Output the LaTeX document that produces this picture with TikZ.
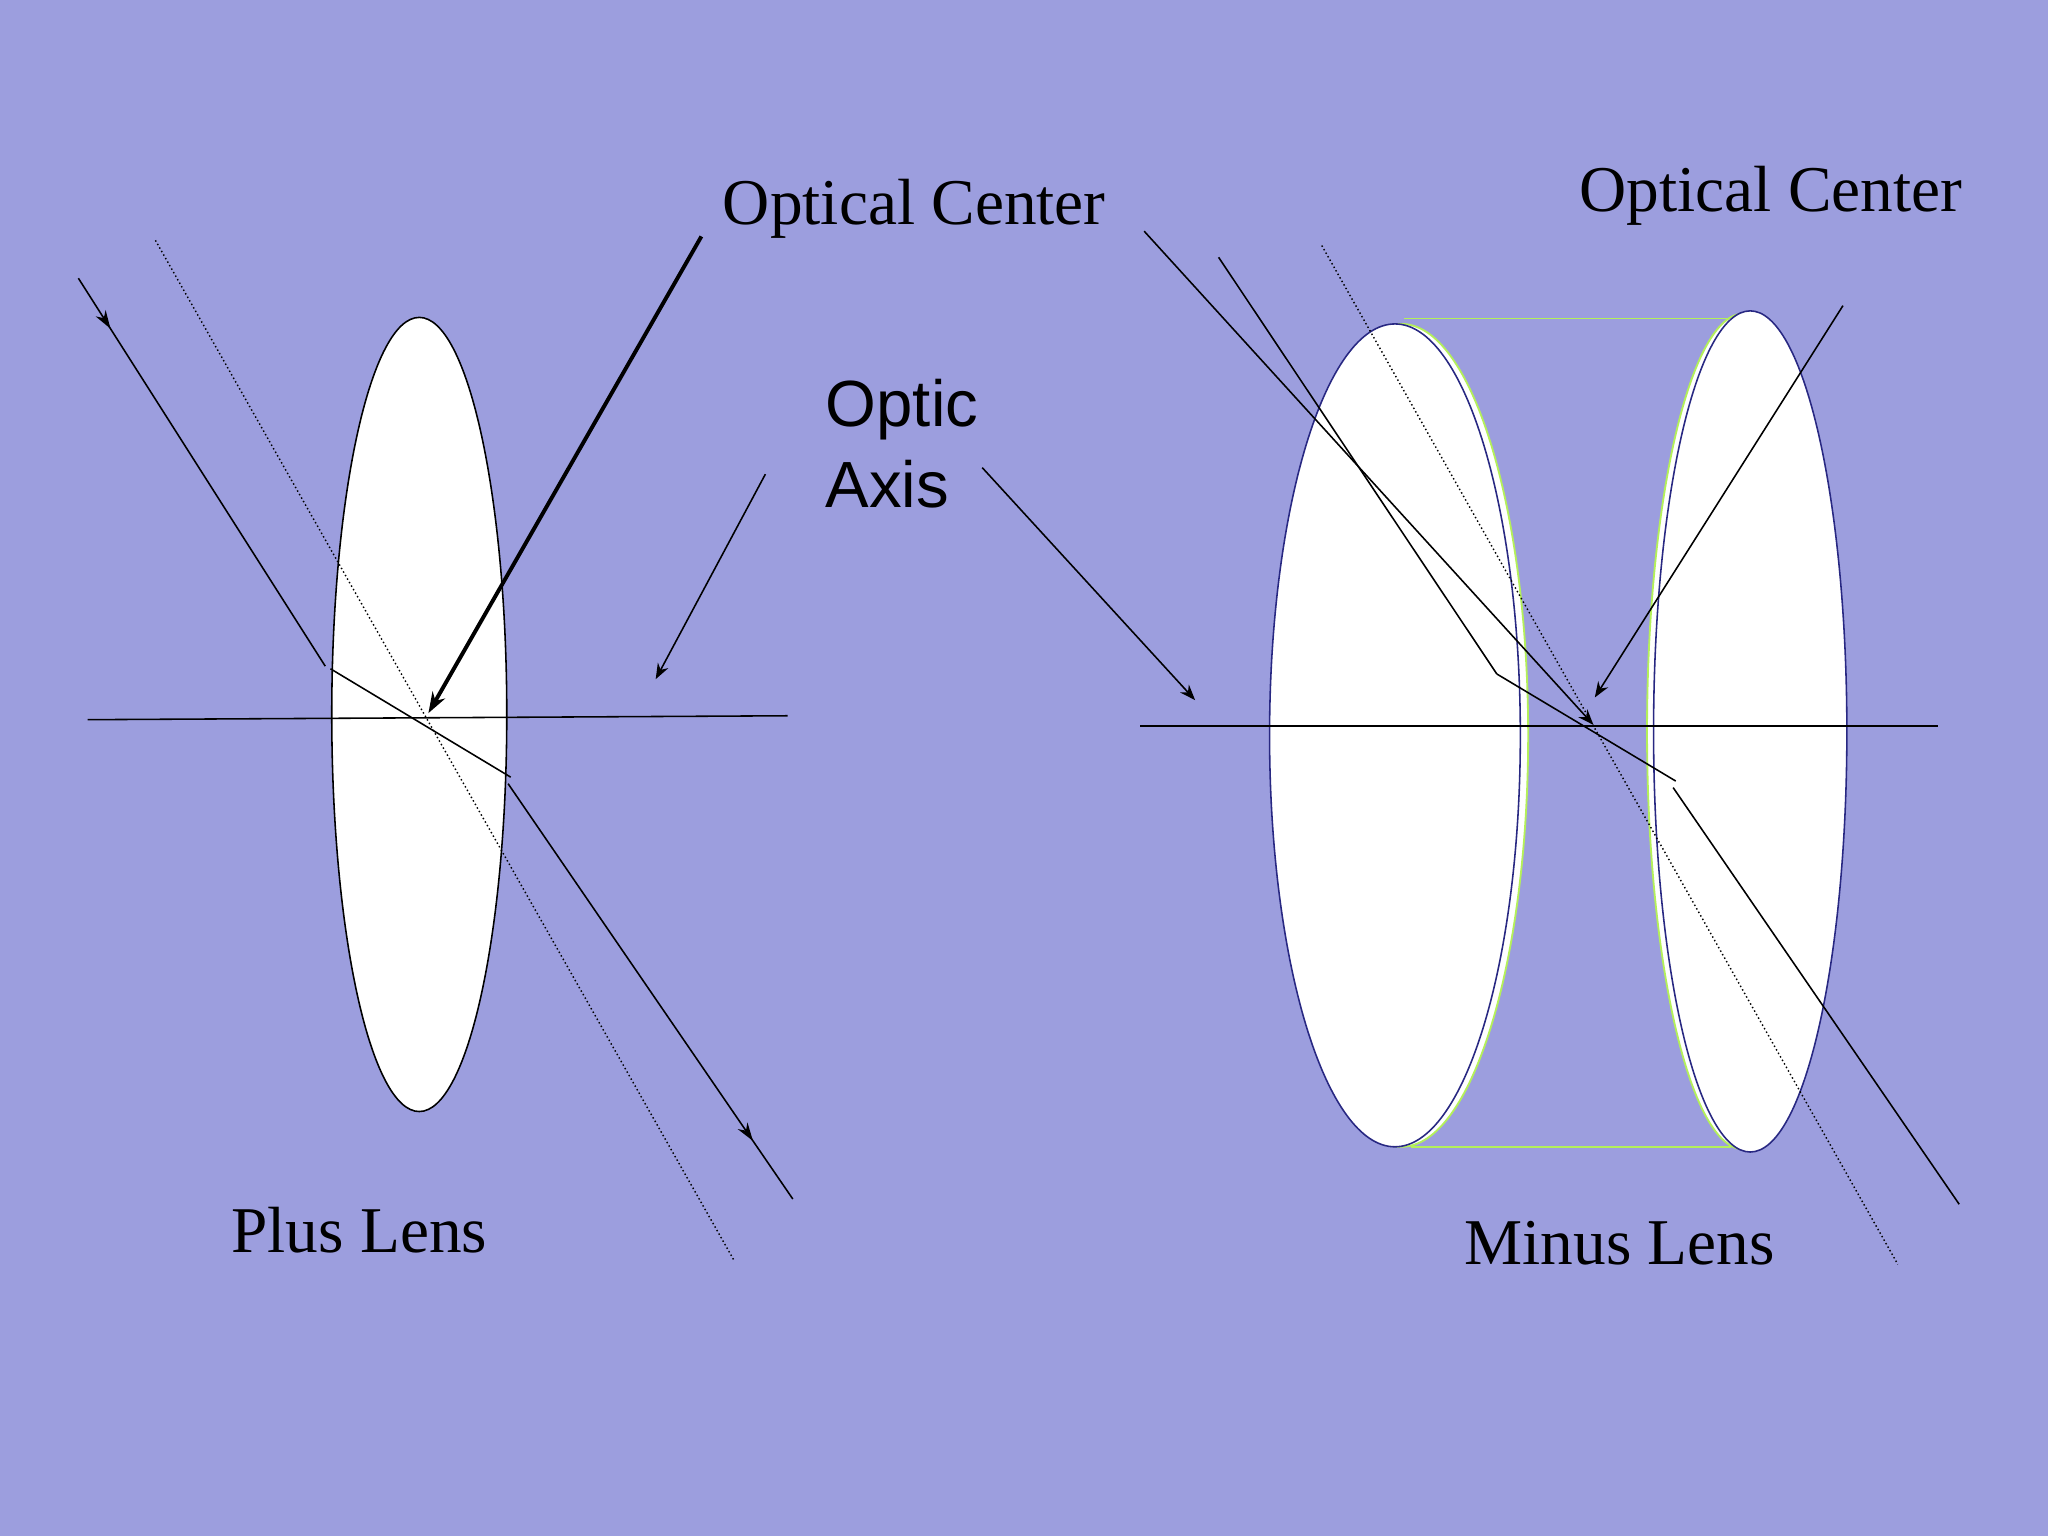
\documentclass[tikz,border=0pt]{standalone}
\usepackage{fontspec}
\setmainfont{Liberation Serif}
\newfontfamily\arialf{Liberation Sans}
\usetikzlibrary{arrows.meta,decorations.markings}
\definecolor{bg}{RGB}{156,158,222}
\definecolor{navy}{RGB}{40,40,130}
\definecolor{lgreen}{RGB}{180,240,90}
\tikzset{ray/.style={line width=1.2pt,black},
  dots/.style={line width=1.1pt,dotted},
  lab/.style={font=\fontsize{50}{54}\selectfont,inner sep=0pt},
  arr/.style={ray,-{Stealth[length=12pt,width=9pt]}},
  midarr/.style={postaction={decorate},decoration={markings,mark=at position #1 with {\arrow{Stealth[length=14pt,width=9pt]}}}}}
\begin{document}
\begin{tikzpicture}[x=1pt,y=-1pt]
\fill[bg] (0,0) rectangle (1568,1176);
\useasboundingbox (0,0) rectangle (1568,1176);
% plus lens
\draw[fill=white,line width=1.2pt] (321,547) ellipse [x radius=67,y radius=304];
\coordinate (pa1) at (67,551); \coordinate (pa2) at (603,548);
\draw[ray] (pa1) -- (pa2);
\coordinate (r1) at (60,213); \coordinate (r2) at (249,510);
\coordinate (r2b) at (253,512); \coordinate (r3) at (391,595);
\coordinate (r3b) at (389,600); \coordinate (r4) at (607,918);
\draw[ray,midarr=0.13] (r1) -- (r2);
\draw[ray] (r2b) -- (r3);
\draw[ray,midarr=0.86] (r3b) -- (r4);
\coordinate (d1) at (119,184); \coordinate (d2) at (562,965);
\draw[dots] (d1) -- (d2);
\node[lab] (oc1) at (700,160) {Optical Center};
\coordinate (oc1s) at (537,181); \coordinate (oc1e) at (328,546);
\draw[line width=3pt,-{Stealth[length=16pt,width=11pt]}] (oc1s) -- (oc1e);
\coordinate (ax1s) at (586,363); \coordinate (ax1e) at (502,520);
\draw[arr] (ax1s) -- (ax1e);
\node[lab,font=\arialf\fontsize{50}{62}\selectfont,align=left,anchor=north west] (oa) at (632,290) {Optic\\Axis};
\coordinate (ax2s) at (752,358); \coordinate (ax2e) at (915,536);
\draw[arr] (ax2s) -- (ax2e);
\node[lab] (pl) at (275,942) {Plus Lens};
\node[lab] (ml) at (1240,952) {Minus Lens};
\node[lab] (oc2) at (1356,150) {Optical Center};
% minus lens
\coordinate (g1) at (1075,244); \coordinate (g2) at (1325,244);
\coordinate (g3) at (1080,878); \coordinate (g4) at (1325,878);
\draw[lgreen,line width=1.2pt] (g1) -- (g2) (g3) -- (g4);
\draw[fill=white,draw=lgreen,line width=1.4pt] (1073,563) ellipse [x radius=97,y radius=315];
\draw[fill=white,draw=navy,line width=1.2pt] (1068,563) ellipse [x radius=96,y radius=315];
\draw[fill=white,draw=lgreen,line width=1.4pt] (1335,560) ellipse [x radius=74,y radius=320];
\draw[fill=white,draw=navy,line width=1.2pt] (1340,560) ellipse [x radius=74,y radius=322];
\coordinate (ma1) at (873,556); \coordinate (ma2) at (1484,556);
\draw[ray] (ma1) -- (ma2);
\coordinate (s1) at (933,197); \coordinate (s2) at (1146,516);
\coordinate (s2b) at (1146,516); \coordinate (s3) at (1283,598);
\coordinate (s3b) at (1281,603); \coordinate (s4) at (1500,922);
\draw[ray] (s1) -- (s2); \draw[ray] (s2b) -- (s3); \draw[ray] (s3b) -- (s4);
\coordinate (e1) at (1012,188); \coordinate (e2) at (1453,968);
\draw[dots] (e1) -- (e2);
\coordinate (oc2s) at (876,177); \coordinate (oc2e) at (1220,555);
\draw[arr] (oc2s) -- (oc2e);
\coordinate (oc3s) at (1411,234); \coordinate (oc3e) at (1221,534);
\draw[arr] (oc3s) -- (oc3e);
\end{tikzpicture}
\end{document}
